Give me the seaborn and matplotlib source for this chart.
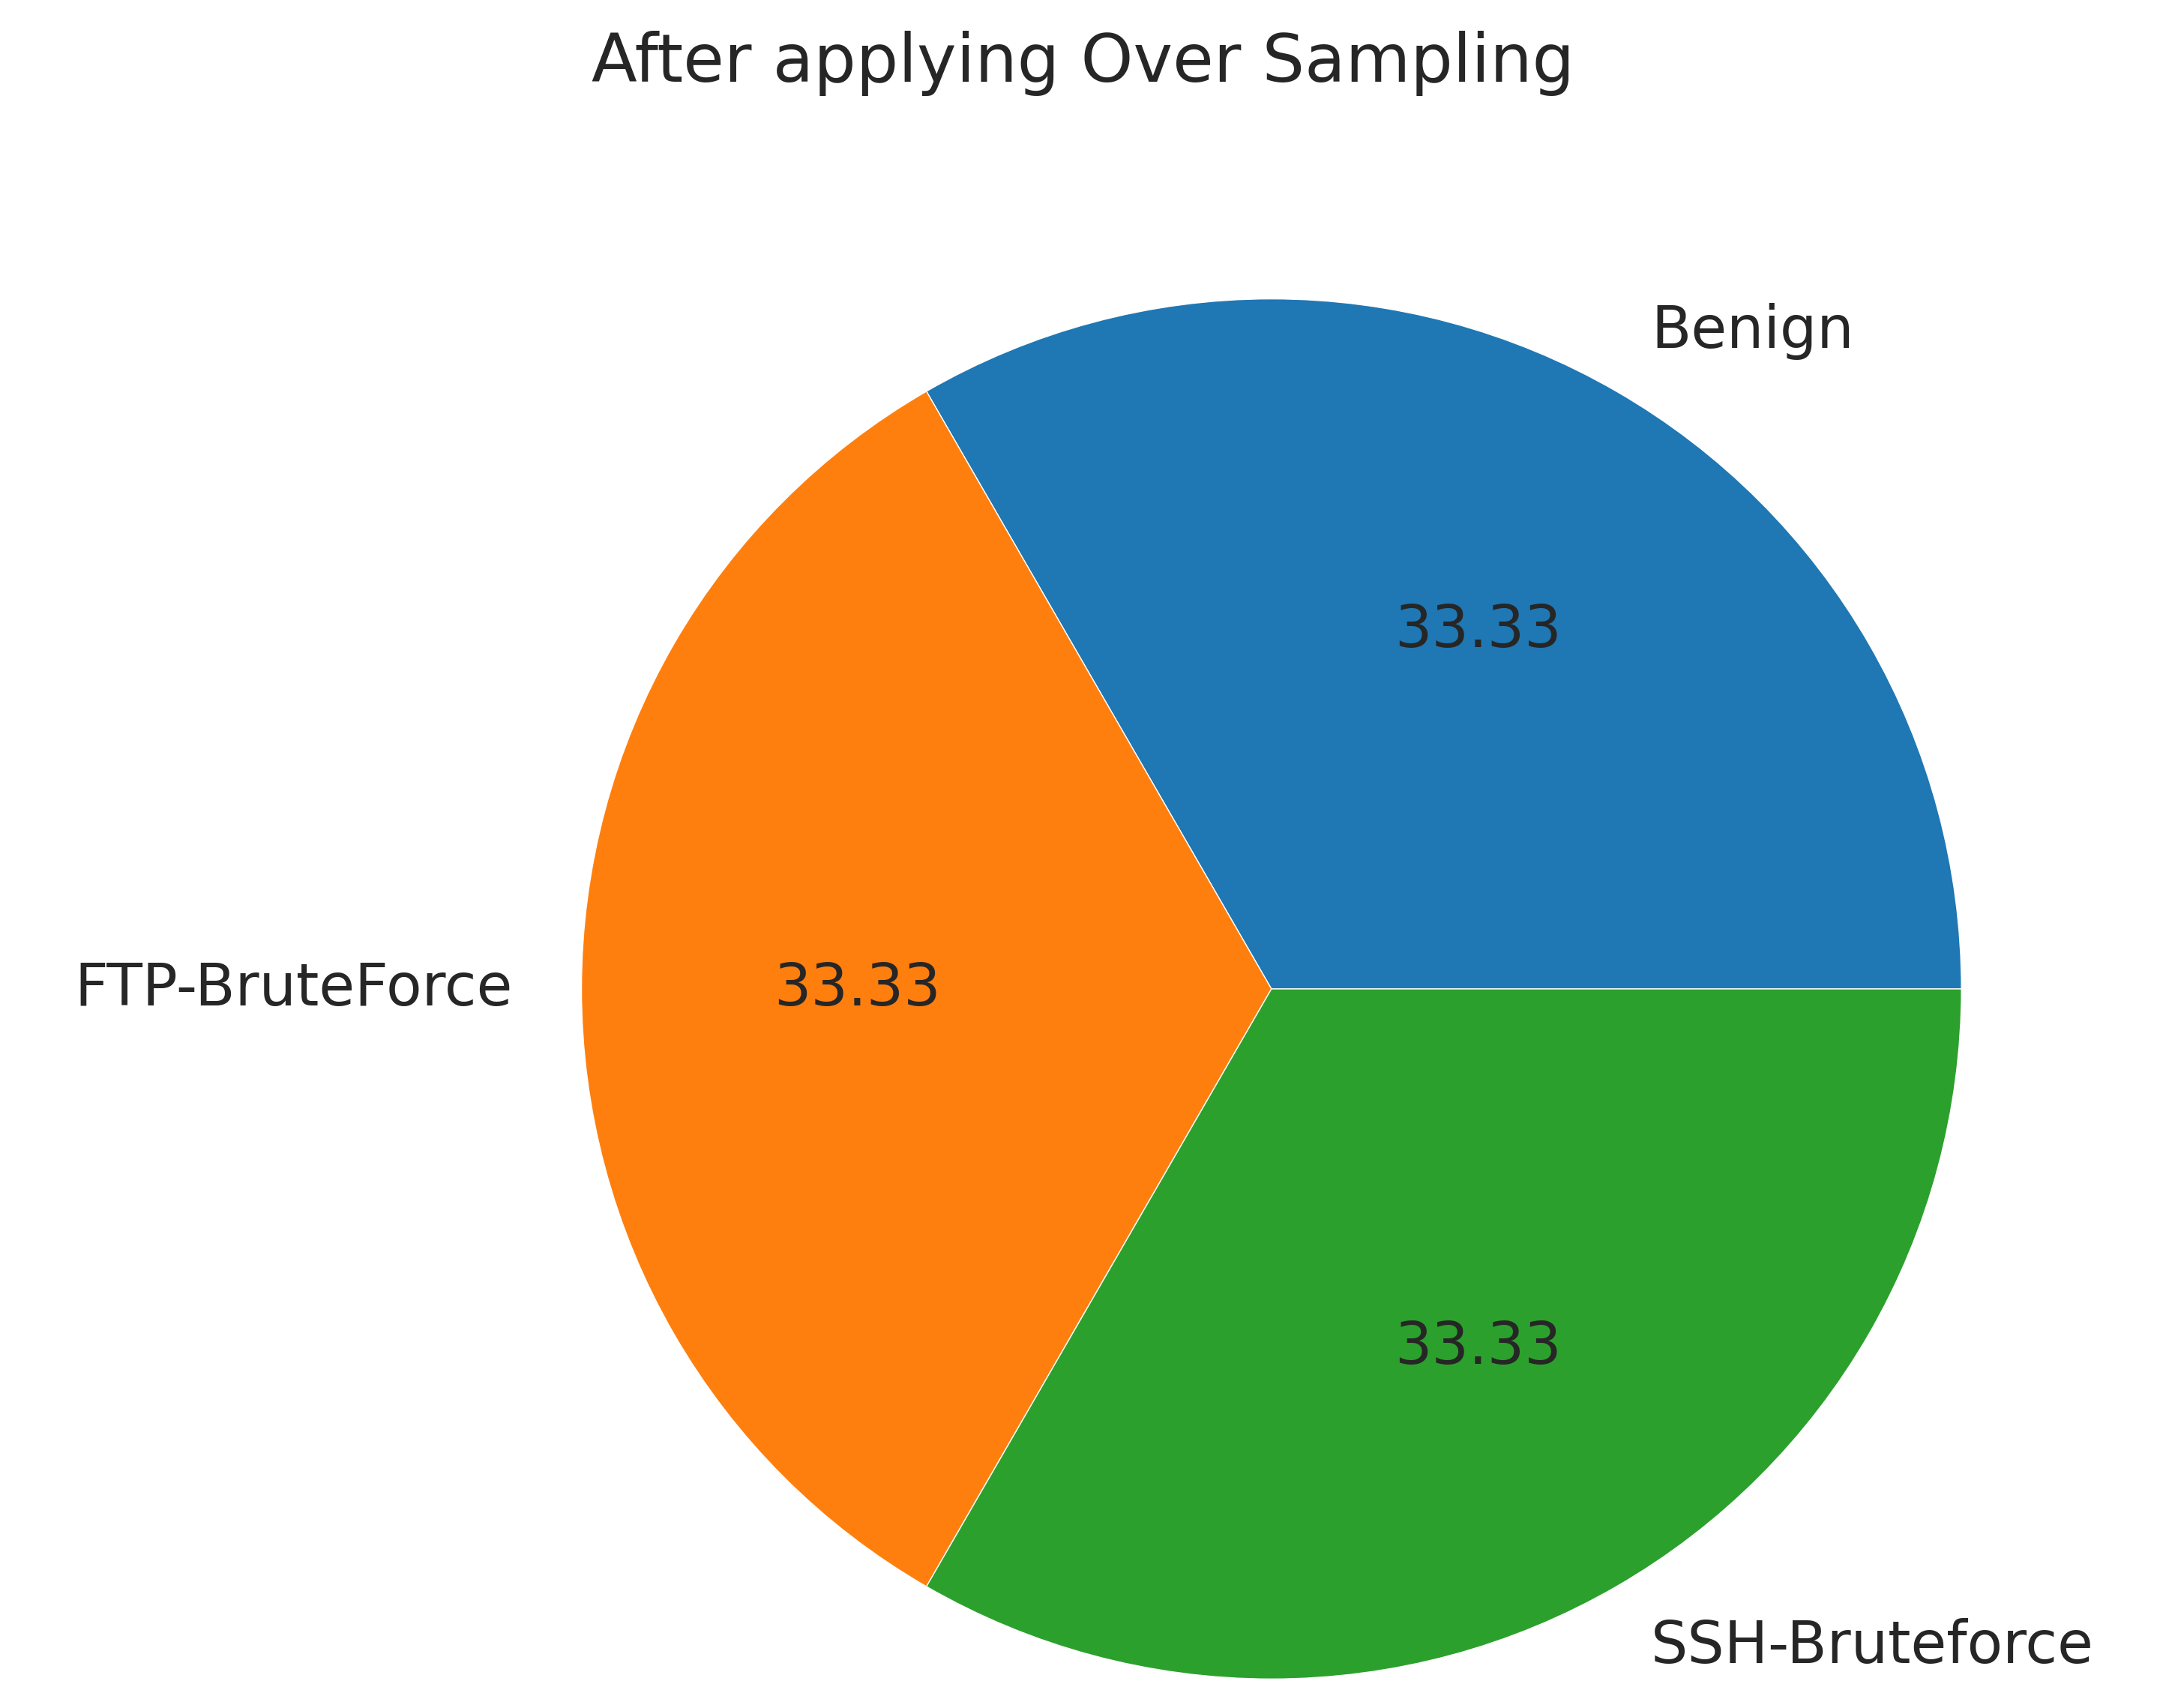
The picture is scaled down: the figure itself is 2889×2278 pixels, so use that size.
import seaborn as sns
import matplotlib.pyplot as plt

sns.set_theme(style="white")
plt.rcParams['font.family'] = ['DejaVu Sans']

labels = ["Benign", "FTP-BruteForce", "SSH-Bruteforce"]
values = [1, 1, 1]
colors = sns.color_palette("tab10", 3)

fig = plt.figure(figsize=(28.89, 22.78), dpi=100)
ax = fig.add_axes([0.268, 0.017, 0.638, 0.808])
ax.pie(values, labels=labels, colors=colors, autopct="%.2f",
       textprops={"fontsize": 56})
ax.set_xlim(-1, 1)
ax.set_ylim(-1, 1)
fig.text(0.5, 0.963, "After applying Over Sampling", ha="center", va="center", fontsize=64)
fig.savefig("out.png", dpi=100)
